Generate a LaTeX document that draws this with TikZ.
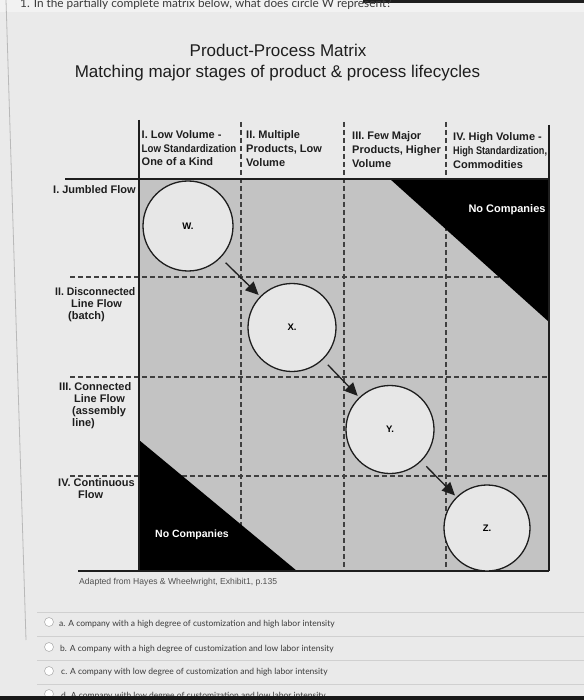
\documentclass[tikz,border=0pt]{standalone}
\usepackage{fontspec}
\setmainfont{Liberation Sans}
\newfontfamily\lato{Lato}
\usetikzlibrary{arrows.meta}
\definecolor{pagebg}{HTML}{EAEAEA}
\definecolor{topbg}{HTML}{F2F2F2}
\definecolor{matbg}{HTML}{C3C3C3}
\definecolor{circbg}{HTML}{E7E7E7}
\definecolor{ink}{HTML}{1E1E1E}
\definecolor{optink}{HTML}{3A3A3A}
\definecolor{sepline}{HTML}{D0D0D0}
\definecolor{capink}{HTML}{505050}
\begin{document}
\begin{tikzpicture}[x=1pt,y=-1pt,
  hdr/.style={anchor=base west, inner sep=0pt, font=\bfseries\fontsize{11}{13}\selectfont, text=ink},
  nocomp/.style={anchor=base, inner sep=0pt, text=white, font=\bfseries\fontsize{11}{13}\selectfont},
  circ/.style={circle, draw=ink, line width=1.3pt, fill=circbg, minimum size=88pt, inner sep=0pt, font=\bfseries\fontsize{9.5}{10}\selectfont},
  solidline/.style={draw=ink, line width=1.3pt},
  dashline/.style={draw=ink!85, line width=1.1pt, dash pattern=on 5pt off 3pt},
  arr/.style={draw=ink, line width=1.3pt, -{Triangle[length=13pt,width=12pt]}, shorten <=7pt, shorten >=2pt},
  opt/.style={anchor=base west, inner sep=0pt, font=\lato\fontsize{8.5}{10}\selectfont, text=optink},
  radio/.style={circle, draw=gray!60, fill=white, line width=0.6pt, minimum size=9pt, inner sep=0pt},
]
\clip (0,0) rectangle (584,700);
\fill[pagebg] (0,0) rectangle (584,700);
\fill[topbg] (0,0) rectangle (584,12);
\fill[ink] (363,0) rectangle (584,3);
\draw[gray!55, line width=0.8pt] (6,0) -- (26,640);

% question
\node[anchor=base west, inner sep=0pt, font=\lato\fontsize{11.8}{13}\selectfont, text=optink] (q) at (20,8)
  {1. In the partially complete matrix below, what does circle W represent?};

% title
\node[anchor=base, inner sep=0pt, font=\fontsize{17}{20}\selectfont, text=ink] (t1) at (278,57) {Product-Process Matrix};
\node[anchor=base, inner sep=0pt, font=\fontsize{17}{20}\selectfont, text=ink] (t2) at (277.5,78) {Matching major stages of product \& process lifecycles};

% matrix background
\fill[matbg] (139,179) rectangle (549,571);

% dashed grid
\foreach \x in {241,344,446} \draw[dashline] (\x,122) -- (\x,571);
\foreach \y in {277,377,476} \draw[dashline] (70,\y) -- (549,\y);

% no-company triangles
\fill[black] (390,179) -- (549,179) -- (549,322) -- cycle;
\fill[black] (139,440) -- (139,571) -- (297,571) -- cycle;

% solid frame
\draw[solidline] (65,179) -- (549,179);
\draw[solidline] (78,571) -- (549,571);
\draw[solidline] (139,120) -- (139,571);
\draw[solidline] (549,125) -- (549,571);

% circles
\node[circ, minimum size=90pt] (W) at (188,226) {W.};
\node[circ] (X) at (292,327.5) {X.};
\node[circ] (Y) at (390,429.5) {Y.};
\node[circ, minimum size=86pt] (Z) at (487,528) {Z.};
\draw[arr] (W) -- (X);
\draw[arr] (X) -- (Y);
\draw[arr] (Y) -- (Z);

% no companies labels
\node[nocomp] (nc1) at (507,213) {No Companies};
\node[nocomp, font=\bfseries\fontsize{10.5}{12}\selectfont] (nc2) at (192,537) {No Companies};

% column headers
\node[hdr] (c1a) at (141.5,138.5) {I. Low Volume -};
\node[hdr] (c1b) at (141.5,152.5) {\scalebox{0.88}[1]{Low Standardization}};
\node[hdr] (c1c) at (141.5,166) {One of a Kind};
\node[hdr] (c2a) at (246,139) {II. Multiple};
\node[hdr] (c2b) at (246,153) {Products, Low};
\node[hdr] (c2c) at (246,166.5) {Volume};
\node[hdr] (c3a) at (352,140) {III. Few Major};
\node[hdr] (c3b) at (352,154) {Products, Higher};
\node[hdr] (c3c) at (352,167.5) {Volume};
\node[hdr] (c4a) at (453,141) {IV. High Volume -};
\node[hdr] (c4b) at (453,155) {\scalebox{0.83}[1]{High Standardization,}};
\node[hdr] (c4c) at (453,168.5) {Commodities};

% row labels
\node[hdr] (r1a) at (53,194) {I. Jumbled Flow};
\node[hdr] (r2a) at (55,295) {\scalebox{0.95}[1]{II. Disconnected}};
\node[hdr] (r2b) at (71,307) {Line Flow};
\node[hdr] (r2c) at (68,319) {(batch)};
\node[hdr] (r3a) at (59,390) {III. Connected};
\node[hdr] (r3b) at (74,402) {Line Flow};
\node[hdr] (r3c) at (72,414) {(assembly};
\node[hdr] (r3d) at (72,426) {line)};
\node[hdr] (r4a) at (58,486) {IV. Continuous};
\node[hdr] (r4b) at (78,498) {Flow};

% caption
\node[anchor=base west, inner sep=0pt, font=\fontsize{8.6}{10}\selectfont, text=capink] (cap) at (79,584)
  {Adapted from Hayes \& Wheelwright, Exhibit1, p.135};

% answer options
\foreach \y in {612,636,660,684} \draw[sepline, line width=0.7pt] (37,\y) -- (584,\y);
\node[radio] (ra) at (49,622) {};
\node[radio] (rb) at (49,647) {};
\node[radio] (rc) at (49,671) {};
\node[radio] (rd) at (49,694) {};
\node[opt] (oa) at (59,626) {a. A company with a high degree of customization and high labor intensity};
\node[opt] (ob) at (60,651) {b. A company with a high degree of customization and low labor intensity};
\node[opt] (oc) at (61,674) {c. A company with low degree of customization and high labor intensity};
\node[opt] (od) at (61,698) {d. A company with low degree of customization and low labor intensity};
\fill[black!90] (0,696) rectangle (584,700);
\end{tikzpicture}
\end{document}
